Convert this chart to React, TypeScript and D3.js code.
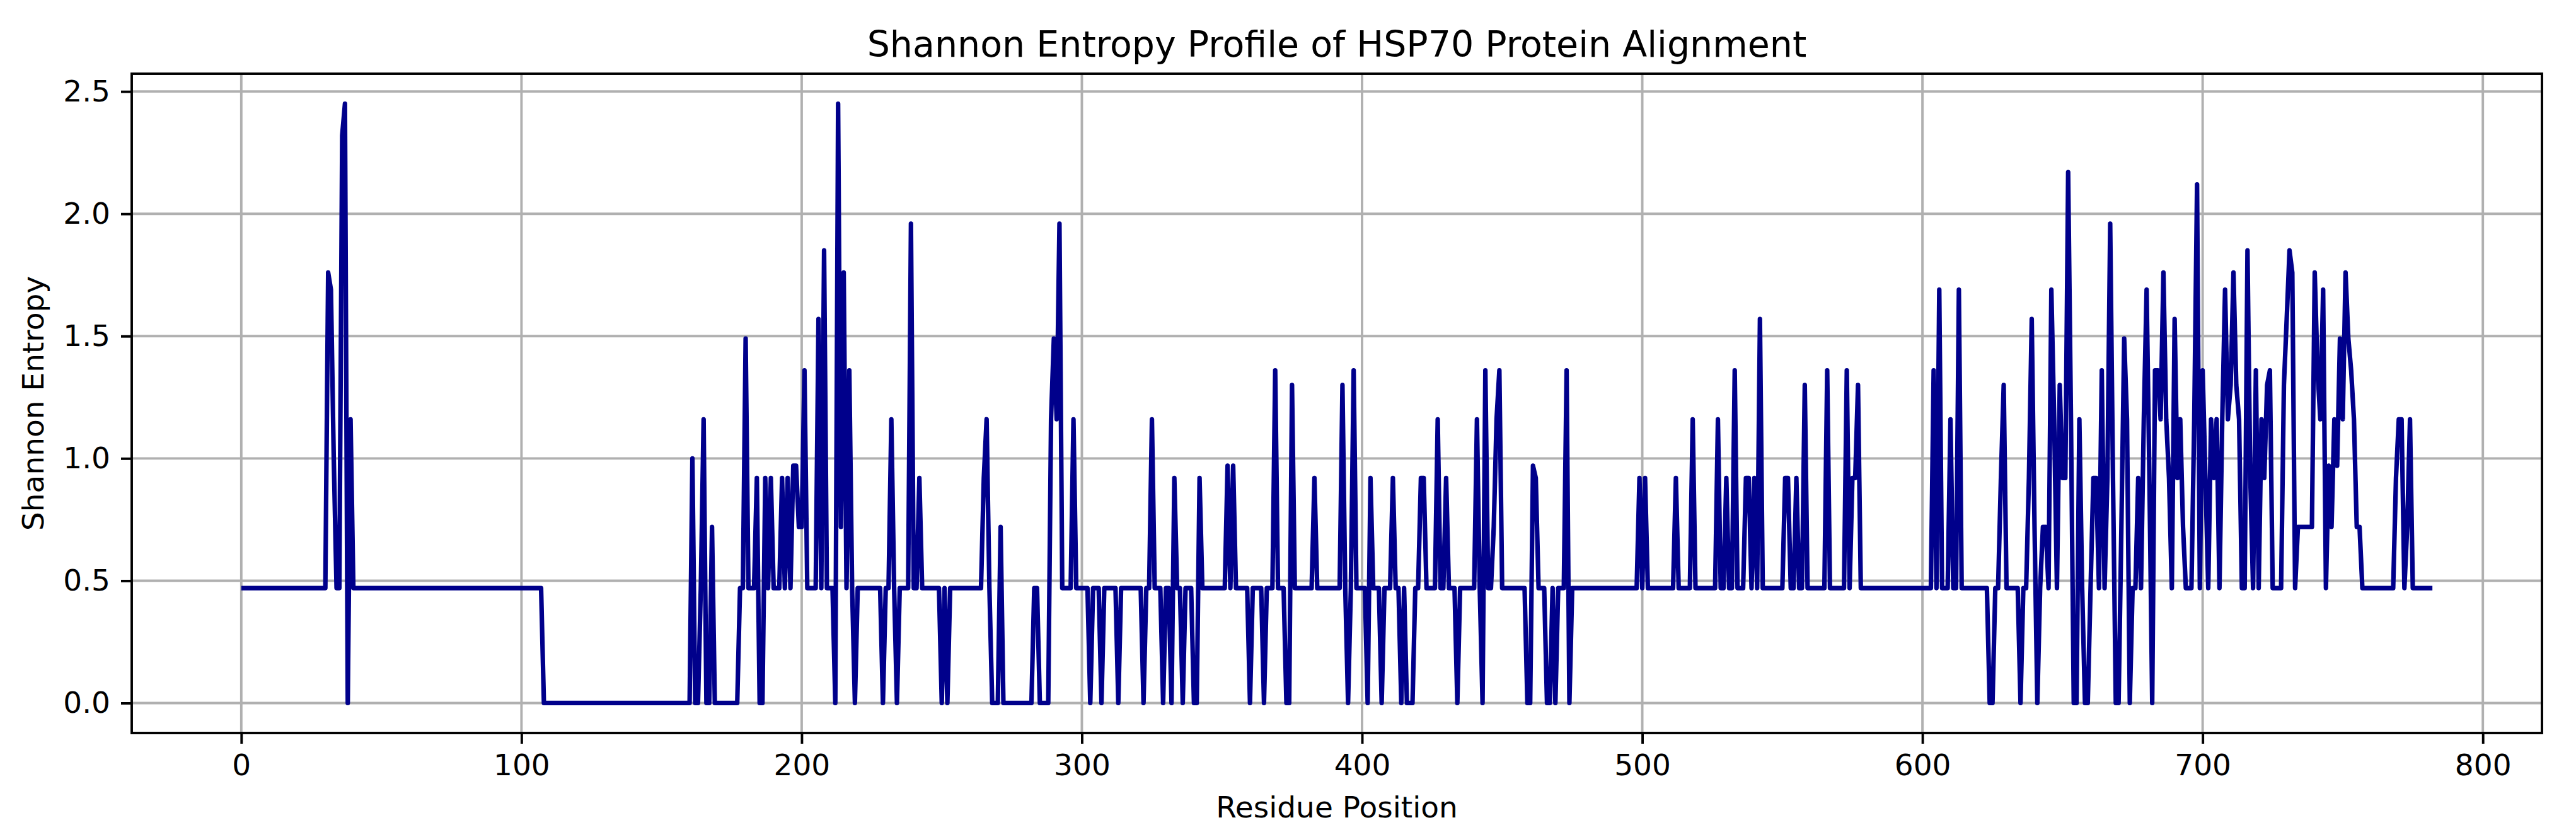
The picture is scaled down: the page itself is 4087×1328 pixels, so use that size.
import * as d3 from 'd3';
import { useEffect, useRef } from 'react';

const xTicks = [0, 100, 200, 300, 400, 500, 600, 700, 800];
const yTicks = [0, 0.5, 1.0, 1.5, 2.0, 2.5];

// [residue, entropy] vertices of the profile.
// Flat runs are given by their two end points.
const nTerminal = [
  [0, 0.47], [30, 0.47], [31, 1.76], [32, 1.69], [33, 1.0], [34, 0.47], [35, 0.47],
  [36, 2.32], [37, 2.45], [38, 0], [39, 1.16], [40, 0.47], [107, 0.47], [108, 0], [160, 0],
];

const region160 = [
  [161, 1.0], [162, 0], [163, 0], [164, 0.47], [165, 1.16], [166, 0], [167, 0], [168, 0.72],
  [169, 0], [177, 0], [178, 0.47], [179, 0.47], [180, 1.49], [181, 0.47], [183, 0.47],
  [184, 0.92], [185, 0], [186, 0], [187, 0.92], [188, 0.47], [189, 0.92], [190, 0.47],
  [192, 0.47], [193, 0.92], [194, 0.47], [195, 0.92], [196, 0.47], [197, 0.97], [198, 0.97],
  [199, 0.72], [200, 0.72], [201, 1.36], [202, 0.47], [205, 0.47], [206, 1.57], [207, 0.47],
  [208, 1.85], [209, 0.47], [211, 0.47], [212, 0], [213, 2.45], [214, 0.72], [215, 1.76],
  [216, 0.47], [217, 1.36], [218, 0.47], [219, 0], [220, 0.47],
];

const region220 = [
  [228, 0.47], [229, 0], [230, 0.47], [231, 0.47], [232, 1.16], [233, 0.47], [234, 0],
  [235, 0.47], [238, 0.47], [239, 1.96], [240, 0.47], [241, 0.47], [242, 0.92], [243, 0.47],
  [249, 0.47], [250, 0], [251, 0.47], [252, 0], [253, 0.47], [264, 0.47], [265, 0.92],
  [266, 1.16], [267, 0.47], [268, 0], [270, 0], [271, 0.72], [272, 0], [282, 0], [283, 0.47],
  [284, 0.47], [285, 0], [288, 0], [289, 1.16], [290, 1.49], [291, 1.16], [292, 1.96],
];

const region292 = [
  [293, 0.47], [296, 0.47], [297, 1.16], [298, 0.47], [302, 0.47], [303, 0], [304, 0.47],
  [306, 0.47], [307, 0], [308, 0.47], [312, 0.47], [313, 0], [314, 0.47], [321, 0.47],
  [322, 0], [323, 0.47], [324, 0.47], [325, 1.16], [326, 0.47], [328, 0.47], [329, 0],
  [330, 0.47], [331, 0.47], [332, 0], [333, 0.92], [334, 0.47], [335, 0.47], [336, 0],
  [337, 0.47], [339, 0.47], [340, 0], [341, 0], [342, 0.92], [343, 0.47], [351, 0.47],
  [352, 0.97], [353, 0.47], [354, 0.97], [355, 0.47],
];

const region355 = [
  [359, 0.47], [360, 0], [361, 0.47], [364, 0.47], [365, 0], [366, 0.47], [368, 0.47],
  [369, 1.36], [370, 0.47], [372, 0.47], [373, 0], [374, 0], [375, 1.3], [376, 0.47],
  [382, 0.47], [383, 0.92], [384, 0.47], [392, 0.47], [393, 1.3], [394, 0.47], [395, 0],
  [396, 0.47], [397, 1.36], [398, 0.47], [401, 0.47], [402, 0], [403, 0.92], [404, 0.47],
  [406, 0.47], [407, 0], [408, 0.47], [410, 0.47], [411, 0.92], [412, 0.47], [413, 0.47],
  [414, 0], [415, 0.47], [416, 0], [418, 0], [419, 0.47], [420, 0.47], [421, 0.92],
  [422, 0.92], [423, 0.47],
];

const region423 = [
  [426, 0.47], [427, 1.16], [428, 0.47], [429, 0.47], [430, 0.92], [431, 0.47], [433, 0.47],
  [434, 0], [435, 0.47], [440, 0.47], [441, 1.16], [442, 0.47], [443, 0], [444, 1.36],
  [445, 0.47], [446, 0.47], [447, 0.72], [448, 1.16], [449, 1.36], [450, 0.47], [458, 0.47],
  [459, 0], [460, 0], [461, 0.97], [462, 0.92], [463, 0.47], [465, 0.47], [466, 0], [467, 0],
  [468, 0.47], [469, 0], [470, 0.47], [472, 0.47], [473, 1.36], [474, 0], [475, 0.47],
];

const region475 = [
  [498, 0.47], [499, 0.92], [500, 0.47], [501, 0.92], [502, 0.47], [511, 0.47], [512, 0.92],
  [513, 0.47], [517, 0.47], [518, 1.16], [519, 0.47], [526, 0.47], [527, 1.16], [528, 0.47],
  [529, 0.47], [530, 0.92], [531, 0.47], [532, 0.47], [533, 1.36], [534, 0.47], [536, 0.47],
  [537, 0.92], [538, 0.92], [539, 0.47], [540, 0.92], [541, 0.47], [542, 1.57], [543, 0.47],
  [550, 0.47],
];

const region550 = [
  [551, 0.92], [552, 0.92], [553, 0.47], [554, 0.47], [555, 0.92], [556, 0.47], [557, 0.47],
  [558, 1.3], [559, 0.47], [565, 0.47], [566, 1.36], [567, 0.47], [572, 0.47], [573, 1.36],
  [574, 0.47], [575, 0.92], [576, 0.92], [577, 1.3], [578, 0.47], [603, 0.47], [604, 1.36],
  [605, 0.47], [606, 1.69], [607, 0.47], [609, 0.47], [610, 1.16], [611, 0.47], [612, 0.47],
  [613, 1.69], [614, 0.47], [623, 0.47], [624, 0], [625, 0], [626, 0.47], [627, 0.47],
  [628, 0.92], [629, 1.3], [630, 0.47], [634, 0.47], [635, 0], [636, 0.47], [637, 0.47],
  [638, 0.92], [639, 1.57], [640, 0.72], [641, 0], [642, 0.47], [643, 0.72], [644, 0.72],
  [645, 0.47], [646, 1.69], [647, 1.16], [648, 0.47], [649, 1.3], [650, 0.92], [651, 0.92],
  [652, 2.17], [653, 1.16], [654, 0], [655, 0], [656, 1.16], [657, 0.47], [658, 0], [659, 0],
  [660, 0.47],
];

const cTerminal = [
  [661, 0.92], [662, 0.92], [663, 0.47], [664, 1.36], [665, 0.47], [666, 0.92], [667, 1.96],
  [668, 0.92], [669, 0], [670, 0], [671, 0.72], [672, 1.49], [673, 1.16], [674, 0], [675, 0.47],
  [676, 0.47], [677, 0.92], [678, 0.47], [679, 1.16], [680, 1.69], [681, 0.92], [682, 0],
  [683, 1.36], [684, 1.36], [685, 1.16], [686, 1.76], [687, 1.16], [688, 0.92], [689, 0.47],
  [690, 1.57], [691, 0.92], [692, 1.16], [693, 0.72], [694, 0.47], [696, 0.47], [697, 1.16],
  [698, 2.12], [699, 0.47], [700, 1.36], [701, 0.92], [702, 0.47], [703, 1.16], [704, 0.92],
  [705, 1.16], [706, 0.47], [707, 1.16], [708, 1.69], [709, 1.16], [710, 1.3], [711, 1.76],
  [712, 1.3], [713, 1.16], [714, 0.47], [715, 0.47], [716, 1.85], [717, 0.92], [718, 0.47],
  [719, 1.36], [720, 0.47], [721, 1.16], [722, 0.92], [723, 1.3], [724, 1.36], [725, 0.47],
  [728, 0.47], [729, 1.3], [730, 1.57], [731, 1.85], [732, 1.76], [733, 0.47], [734, 0.72],
  [739, 0.72], [740, 1.76], [741, 1.36], [742, 1.16], [743, 1.69], [744, 0.47], [745, 0.97],
  [746, 0.72], [747, 1.16], [748, 0.97], [749, 1.49], [750, 1.16], [751, 1.76], [752, 1.49],
  [753, 1.36], [754, 1.16], [755, 0.72], [756, 0.72], [757, 0.47], [768, 0.47], [769, 0.92],
  [770, 1.16], [771, 1.16], [772, 0.47], [773, 0.72], [774, 1.16], [775, 0.47], [782, 0.47],
];

const profile = [
  ...nTerminal, ...region160, ...region220, ...region292, ...region355,
  ...region423, ...region475, ...region550, ...cTerminal,
];

const dims = {
  width: 4087,
  height: 1328,
  left: 209,
  right: 4033,
  top: 117,
  bottom: 1163,
};

const font = 'DejaVu Sans';

export default function App() {
  const svgRef = useRef(null);

  useEffect(() => {
    const svg = d3.select(svgRef.current);
    svg.selectAll('*').remove();

    // matplotlib-style 5% margins around the data
    const [x0, x1] = d3.extent(profile, (d) => d[0]);
    const xPad = (x1 - x0) * 0.05;
    const xScale = d3
      .scaleLinear()
      .domain([x0 - xPad, x1 + xPad])
      .range([dims.left, dims.right]);

    const [y0, y1] = d3.extent(profile, (d) => d[1]);
    const yPad = (y1 - y0) * 0.05;
    const yScale = d3
      .scaleLinear()
      .domain([y0 - yPad, y1 + yPad])
      .range([dims.bottom, dims.top]);

    svg.append('rect').attr('width', dims.width).attr('height', dims.height).attr('fill', '#fff');

    // grid
    const grid = svg.append('g').attr('stroke', '#b0b0b0').attr('stroke-width', 3.9);
    grid
      .selectAll('line.vx')
      .data(xTicks)
      .enter()
      .append('line')
      .attr('x1', (d) => xScale(d))
      .attr('x2', (d) => xScale(d))
      .attr('y1', dims.top)
      .attr('y2', dims.bottom);
    grid
      .selectAll('line.hy')
      .data(yTicks)
      .enter()
      .append('line')
      .attr('x1', dims.left)
      .attr('x2', dims.right)
      .attr('y1', (d) => yScale(d))
      .attr('y2', (d) => yScale(d));

    // entropy line
    const line = d3
      .line()
      .x((d) => xScale(d[0]))
      .y((d) => yScale(d[1]));

    svg
      .append('path')
      .datum(profile)
      .attr('d', line as any)
      .attr('fill', 'none')
      .attr('stroke', '#00008b')
      .attr('stroke-width', 7.2)
      .attr('stroke-linejoin', 'round');

    // frame
    svg
      .append('rect')
      .attr('x', dims.left)
      .attr('y', dims.top)
      .attr('width', dims.right - dims.left)
      .attr('height', dims.bottom - dims.top)
      .attr('fill', 'none')
      .attr('stroke', '#000')
      .attr('stroke-width', 3.9);

    // axes
    const xAxis = svg
      .append('g')
      .attr('transform', 'translate(0,' + dims.bottom + ')')
      .call(d3.axisBottom(xScale).tickValues(xTicks).tickSize(17).tickPadding(17).tickFormat(d3.format('d')));
    const yAxis = svg
      .append('g')
      .attr('transform', 'translate(' + dims.left + ',0)')
      .call(d3.axisLeft(yScale).tickValues(yTicks).tickSize(17).tickPadding(17).tickFormat(d3.format('.1f')));

    [xAxis, yAxis].forEach((ax) => {
      ax.select('.domain').remove();
      ax.attr('font-family', font).attr('font-size', 47);
      ax.selectAll('line').attr('stroke', '#000').attr('stroke-width', 3.9);
      ax.selectAll('text').attr('fill', '#000');
    });

    // title and labels
    svg
      .append('text')
      .attr('x', (dims.left + dims.right) / 2)
      .attr('y', 90)
      .attr('text-anchor', 'middle')
      .style('font-family', font)
      .style('font-size', '57px')
      .text('Shannon Entropy Profile of HSP70 Protein Alignment');

    svg
      .append('text')
      .attr('x', (dims.left + dims.right) / 2)
      .attr('y', 1297)
      .attr('text-anchor', 'middle')
      .style('font-family', font)
      .style('font-size', '47px')
      .text('Residue Position');

    svg
      .append('text')
      .attr('text-anchor', 'middle')
      .attr('transform', 'translate(69,' + (dims.top + dims.bottom) / 2 + ')rotate(-90)')
      .style('font-family', font)
      .style('font-size', '47px')
      .text('Shannon Entropy');
  }, []);

  return (
    <svg
      ref={svgRef}
      width={dims.width}
      height={dims.height}
      style={{ position: 'absolute', left: 0, top: 0, display: 'block' }}
    ></svg>
  );
}
